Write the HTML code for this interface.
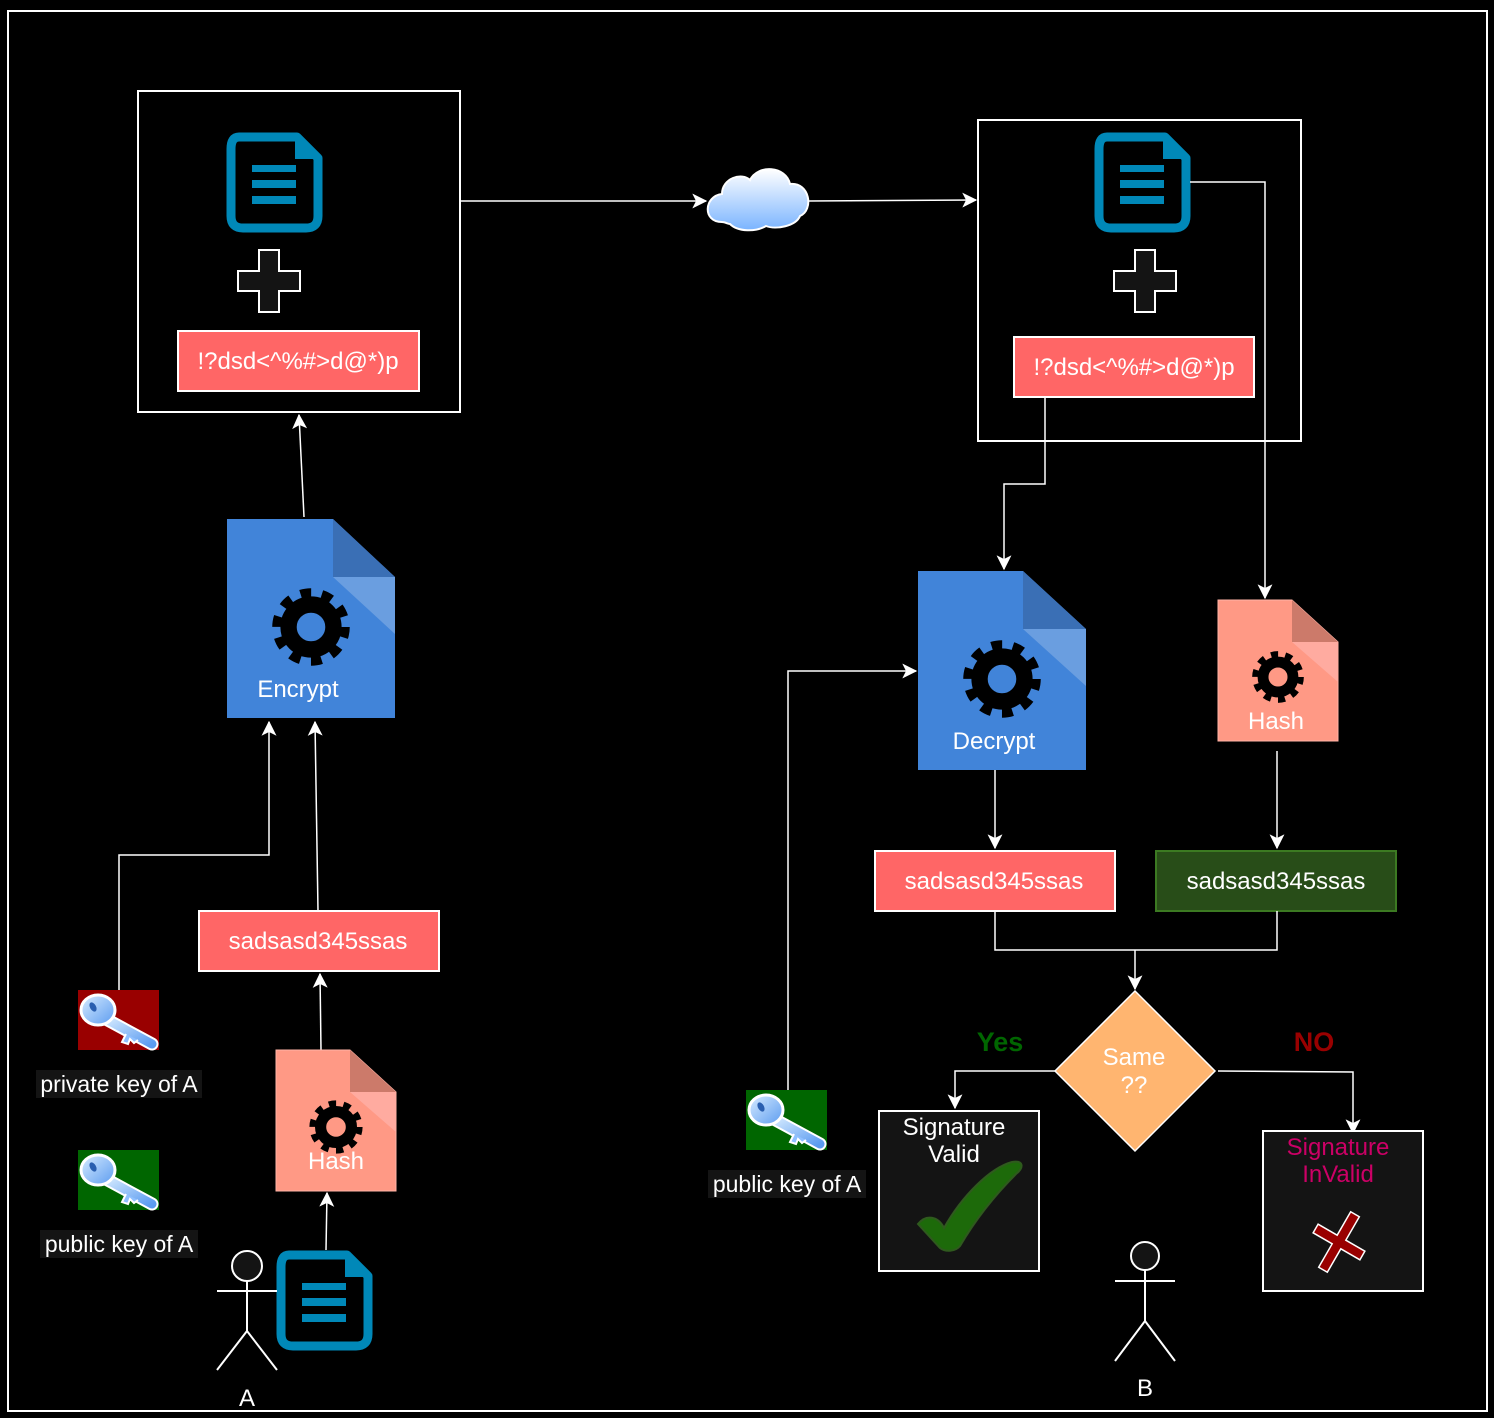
<!DOCTYPE html>
<html><head><meta charset="utf-8"><style>
html,body{margin:0;padding:0;background:#000;}
svg{display:block;}
text{font-family:"Liberation Sans",Arial,sans-serif;}
</style></head><body>
<svg width="1494" height="1418" viewBox="0 0 1494 1418" xmlns="http://www.w3.org/2000/svg">
<defs>
<marker id="ar" viewBox="0 0 12 12" refX="11" refY="6" markerWidth="15" markerHeight="15" markerUnits="userSpaceOnUse" orient="auto">
<path d="M0,0 L12,6 L0,12 L3,6 Z" fill="#fff"/>
</marker>
<linearGradient id="cg" x1="0" y1="0" x2="0" y2="1"><stop offset="0" stop-color="#ffffff"/><stop offset="1" stop-color="#7ab4ff"/></linearGradient>
<linearGradient id="kg" x1="0" y1="0" x2="1" y2="1"><stop offset="0" stop-color="#d8ecff"/><stop offset="1" stop-color="#5b9bf0"/></linearGradient>
<g id="doc">
<path d="M12,4 H70 L91,25 V83 Q91,95 79,95 H16 Q4,95 4,83 V16 Q4,4 12,4 Z" fill="none" stroke="#0088b8" stroke-width="9" stroke-linejoin="round"/>
<path d="M68,4 V26 H91 Z" fill="#0088b8"/>
<rect x="25" y="32" width="44" height="7" fill="#0088b8"/>
<rect x="25" y="47" width="44" height="8" fill="#0088b8"/>
<rect x="25" y="63" width="44" height="8" fill="#0088b8"/>
</g>
<g id="gear">
<circle r="32" fill="none" stroke="#000" stroke-width="12" stroke-dasharray="10 10.1"/>
<circle r="22" fill="none" stroke="#000" stroke-width="16"/>
</g>
<g id="key">
<line x1="26" y1="28" x2="74" y2="54" stroke="#fff" stroke-width="13" stroke-linecap="round"/>
<line x1="26" y1="28" x2="74" y2="54" stroke="url(#kg)" stroke-width="9" stroke-linecap="round"/>
<path d="M48,44 L44,52 L50,54 L52,49 L56,53 L60,50" fill="#8fc0ff" stroke="#fff" stroke-width="2"/>
<ellipse cx="20" cy="20" rx="17" ry="15" fill="url(#kg)" stroke="#fff" stroke-width="3"/>
<ellipse cx="15" cy="17" rx="3" ry="5" fill="#2a5fb0" transform="rotate(-30 15 17)"/>
</g>
<g id="plus">
<path d="M-10,-31 H10 V-10 H31 V10 H10 V31 H-10 V10 H-31 V-10 H-10 Z" fill="#141414" stroke="#fff" stroke-width="2"/>
</g>
</defs>
<rect width="1494" height="1418" fill="#000"/>
<rect x="8" y="11" width="1479" height="1400" fill="none" stroke="#fff" stroke-width="2"/>

<rect x="138" y="91" width="322" height="321" fill="none" stroke="#fff" stroke-width="2"/>
<use href="#doc" x="227" y="133"/>
<use href="#plus" transform="translate(269,281)"/>
<rect x="178" y="331" width="241" height="60" fill="#ff6666" stroke="#fff" stroke-width="2"/>
<text x="298" y="369" fill="#fff" font-size="24" text-anchor="middle">!?dsd&lt;^%#&gt;d@*)p</text>

<path d="M722,222 C702,222 704,196 722,194 C722,178 742,172 750,180 C758,164 786,166 790,184 C810,182 814,210 800,216 C796,226 776,230 766,226 C756,232 738,232 730,224 C728,224 725,222 722,222 Z" fill="url(#cg)" stroke="#fff" stroke-width="2"/>
<path d="M460,201 H706" stroke="#fff" stroke-width="1.5" fill="none" marker-end="url(#ar)"/>
<path d="M808,201 L976,200" stroke="#fff" stroke-width="1.5" fill="none" marker-end="url(#ar)"/>

<rect x="978" y="120" width="323" height="321" fill="none" stroke="#fff" stroke-width="2"/>
<use href="#doc" x="1095" y="133"/>
<use href="#plus" transform="translate(1145,281)"/>
<rect x="1014" y="337" width="240" height="60" fill="#ff6666" stroke="#fff" stroke-width="2"/>
<text x="1134" y="375" fill="#fff" font-size="24" text-anchor="middle">!?dsd&lt;^%#&gt;d@*)p</text>
<path d="M1190,182 H1265 V598" stroke="#fff" stroke-width="1.5" fill="none" marker-end="url(#ar)"/>
<path d="M1045,397 V484 H1004 V569" stroke="#fff" stroke-width="1.5" fill="none" marker-end="url(#ar)"/>

<path d="M227,519 H333 L395,577 V718 H227 Z" fill="#4184d9"/>
<path d="M333,519 L395,577 H333 Z" fill="#3a6fb5"/>
<path d="M333,577 H395 V634 Z" fill="#6a9ee0"/>
<use href="#gear" transform="translate(311,627) scale(1.02)"/>
<text x="298" y="697" fill="#fff" font-size="24" text-anchor="middle">Encrypt</text>
<path d="M304,517 L299,415" stroke="#fff" stroke-width="1.5" fill="none" marker-end="url(#ar)"/>
<path d="M119,990 V855 H269 V722" stroke="#fff" stroke-width="1.5" fill="none" marker-end="url(#ar)"/>
<path d="M318,911 L315,722" stroke="#fff" stroke-width="1.5" fill="none" marker-end="url(#ar)"/>

<rect x="199" y="911" width="240" height="60" fill="#ff6666" stroke="#fff" stroke-width="2"/>
<text x="318" y="949" fill="#fff" font-size="24" text-anchor="middle">sadsasd345ssas</text>
<path d="M321,1050 L320,974" stroke="#fff" stroke-width="1.5" fill="none" marker-end="url(#ar)"/>

<path d="M276,1050 H350 L396,1092 V1191 H276 Z" fill="#ff9985" stroke="#ffb3a6" stroke-width="1"/>
<path d="M350,1050 L396,1092 H350 Z" fill="#cc7a6a"/>
<path d="M350,1092 H396 V1132 Z" fill="#ffaba0"/>
<use href="#gear" transform="translate(336,1127) scale(0.7)"/>
<text x="336" y="1169" fill="#fff" font-size="24" text-anchor="middle">Hash</text>
<path d="M326,1250 L327,1193" stroke="#fff" stroke-width="1.5" fill="none" marker-end="url(#ar)"/>
<use href="#doc" x="277" y="1251"/>

<g stroke="#fff" stroke-width="2" fill="none">
<circle cx="247" cy="1266" r="15" fill="#141414"/>
<path d="M247,1281 V1331 M217,1291 H277 M247,1331 L217,1370 M247,1331 L277,1370"/>
</g>
<text x="247" y="1406" fill="#fff" font-size="24" text-anchor="middle">A</text>

<rect x="78" y="990" width="81" height="60" fill="#990000"/>
<use href="#key" x="78" y="990"/>
<rect x="36" y="1070" width="166" height="28" fill="#141414"/>
<text x="119" y="1092" fill="#fff" font-size="23" text-anchor="middle">private key of A</text>
<rect x="78" y="1150" width="81" height="60" fill="#006600"/>
<use href="#key" x="78" y="1150"/>
<rect x="40" y="1230" width="158" height="28" fill="#141414"/>
<text x="119" y="1252" fill="#fff" font-size="23" text-anchor="middle">public key of A</text>

<path d="M918,571 H1023 L1086,629 V770 H918 Z" fill="#4184d9"/>
<path d="M1023,571 L1086,629 H1023 Z" fill="#3a6fb5"/>
<path d="M1023,629 H1086 V686 Z" fill="#6a9ee0"/>
<use href="#gear" transform="translate(1002,679) scale(1.02)"/>
<text x="994" y="749" fill="#fff" font-size="24" text-anchor="middle">Decrypt</text>
<path d="M788,1090 V671 H916" stroke="#fff" stroke-width="1.5" fill="none" marker-end="url(#ar)"/>

<path d="M1218,600 H1292 L1338,642 V741 H1218 Z" fill="#ff9985" stroke="#ffb3a6" stroke-width="1"/>
<path d="M1292,600 L1338,642 H1292 Z" fill="#cc7a6a"/>
<path d="M1292,642 H1338 V682 Z" fill="#ffaba0"/>
<use href="#gear" transform="translate(1278,677) scale(0.68)"/>
<text x="1276" y="729" fill="#fff" font-size="24" text-anchor="middle">Hash</text>

<path d="M995,770 V848" stroke="#fff" stroke-width="1.5" fill="none" marker-end="url(#ar)"/>
<path d="M1277,751 V848" stroke="#fff" stroke-width="1.5" fill="none" marker-end="url(#ar)"/>
<rect x="875" y="851" width="240" height="60" fill="#ff6666" stroke="#fff" stroke-width="2"/>
<text x="994" y="889" fill="#fff" font-size="24" text-anchor="middle">sadsasd345ssas</text>
<rect x="1156" y="851" width="240" height="60" fill="#284d18" stroke="#3c7a22" stroke-width="2"/>
<text x="1276" y="889" fill="#fff" font-size="24" text-anchor="middle">sadsasd345ssas</text>
<path d="M995,911 V950 H1277 V911" stroke="#fff" stroke-width="1.5" fill="none"/>
<path d="M1135,950 V989" stroke="#fff" stroke-width="1.5" fill="none" marker-end="url(#ar)"/>

<path d="M1135,991 L1215,1071 L1135,1151 L1055,1071 Z" fill="#ffb570" stroke="#fff" stroke-width="1.5"/>
<text x="1134" y="1065" fill="#fff" font-size="24" text-anchor="middle">Same</text>
<text x="1134" y="1093" fill="#fff" font-size="24" text-anchor="middle">??</text>
<text x="1000" y="1051" fill="#006600" font-size="27" font-weight="bold" text-anchor="middle">Yes</text>
<text x="1314" y="1051" fill="#990000" font-size="27" font-weight="bold" text-anchor="middle">NO</text>
<path d="M1055,1071 H955 V1108" stroke="#fff" stroke-width="1.5" fill="none" marker-end="url(#ar)"/>
<path d="M1218,1071 L1353,1072 V1133" stroke="#fff" stroke-width="1.5" fill="none" marker-end="url(#ar)"/>

<rect x="879" y="1111" width="160" height="160" fill="#141414" stroke="#fff" stroke-width="2"/>
<text x="954" y="1135" fill="#fff" font-size="24" text-anchor="middle">Signature</text>
<text x="954" y="1162" fill="#fff" font-size="24" text-anchor="middle">Valid</text>
<path d="M918,1224 C926,1214 938,1216 944,1228 C962,1196 990,1168 1012,1162 C1024,1160 1024,1168 1016,1174 C994,1196 974,1222 960,1246 C955,1252 945,1252 940,1248 Z" fill="#1d6a0a" stroke="#2f5a1e" stroke-width="2"/>

<rect x="1263" y="1131" width="160" height="160" fill="#141414" stroke="#fff" stroke-width="2"/>
<text x="1338" y="1155" fill="#cc0066" font-size="24" text-anchor="middle">Signature</text>
<text x="1338" y="1182" fill="#cc0066" font-size="24" text-anchor="middle">InValid</text>
<g transform="translate(1339,1242) rotate(30)">
<path d="M-5,-32 H5 V-5 H27 V5 H5 V32 H-5 V5 H-27 V-5 H-5 Z" fill="#990000" stroke="#fff" stroke-width="1.5"/>
</g>

<g stroke="#fff" stroke-width="2" fill="none">
<circle cx="1145" cy="1256" r="14" fill="#141414"/>
<path d="M1145,1270 V1321 M1115,1281 H1175 M1145,1321 L1115,1361 M1145,1321 L1175,1361"/>
</g>
<text x="1145" y="1396" fill="#fff" font-size="24" text-anchor="middle">B</text>

<rect x="746" y="1090" width="81" height="60" fill="#006600"/>
<use href="#key" x="746" y="1090"/>
<rect x="708" y="1170" width="158" height="28" fill="#141414"/>
<text x="787" y="1192" fill="#fff" font-size="23" text-anchor="middle">public key of A</text>
</svg>
</body></html>
